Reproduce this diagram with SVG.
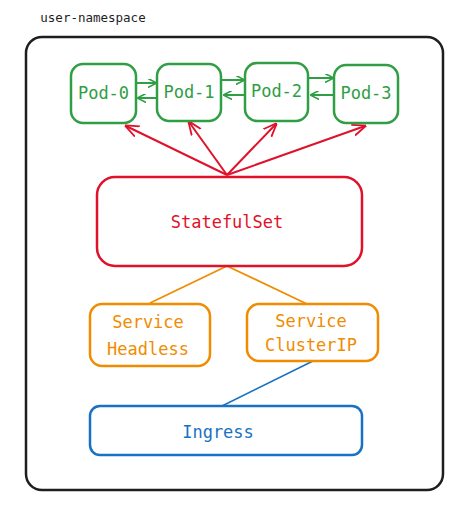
<svg xmlns="http://www.w3.org/2000/svg" width="474" height="515" viewBox="0 0 474 515">
<defs>
<style>
text{font-family:"DejaVu Sans Mono","Liberation Mono",monospace;text-anchor:middle;dominant-baseline:central}
.pod rect{fill:#fff;stroke:#2f9e44;stroke-width:2.5}
.pod text{fill:#2f9e44;font-size:17px}
.ss rect{fill:#fff;stroke:#e0112b;stroke-width:2.5}
.ss text{fill:#e0112b;font-size:17px}
.svc rect{fill:#fff;stroke:#f08c00;stroke-width:2.5}
.svc text{fill:#f08c00;font-size:17px}
.ing rect{fill:#fff;stroke:#1971c2;stroke-width:2.5}
.ing text{fill:#1971c2;font-size:17px}
.g{stroke:#2f9e44;stroke-width:2;fill:none}
.r{stroke:#e0112b;stroke-width:2;fill:none}
.o{stroke:#f08c00;stroke-width:1.8;fill:none}
.b{stroke:#1971c2;stroke-width:1.5;fill:none}
</style>
<marker id="ag" viewBox="0 0 10 10" refX="9" refY="5" markerWidth="9" markerHeight="9" orient="auto" markerUnits="userSpaceOnUse"><path d="M0,0 L10,5 L0,10" fill="none" stroke="#2f9e44" stroke-width="1.8"/></marker>
<marker id="ar" viewBox="0 0 10 10" refX="9" refY="5" markerWidth="14" markerHeight="14" orient="auto" markerUnits="userSpaceOnUse"><path d="M0,1 L10,5 L0,9" fill="none" stroke="#e0112b" stroke-width="1.3"/></marker>
</defs>
<rect width="474" height="515" fill="#fff"/>
<text x="93" y="17" style="font-size:12.5px;fill:#1e1e1e">user-namespace</text>
<g id="namespace"><rect x="26" y="37" width="417" height="453" rx="16" fill="none" stroke="#1e1e1e" stroke-width="2.5"/></g>
<g id="connectors">
<line class="g" x1="137" y1="83" x2="156" y2="83" marker-end="url(#ag)"/>
<line class="g" x1="157" y1="98" x2="138" y2="98" marker-end="url(#ag)"/>
<line class="g" x1="222" y1="80" x2="244" y2="80" marker-end="url(#ag)"/>
<line class="g" x1="245" y1="95" x2="224" y2="95" marker-end="url(#ag)"/>
<line class="g" x1="309" y1="78" x2="333" y2="78" marker-end="url(#ag)"/>
<line class="g" x1="334" y1="95" x2="311" y2="95" marker-end="url(#ag)"/>
<line class="r" x1="227" y1="175" x2="126" y2="126" marker-end="url(#ar)"/>
<line class="r" x1="227" y1="175" x2="189" y2="122" marker-end="url(#ar)"/>
<line class="r" x1="227" y1="175" x2="276" y2="124" marker-end="url(#ar)"/>
<line class="r" x1="227" y1="175" x2="365" y2="126" marker-end="url(#ar)"/>
<line class="o" x1="227" y1="266" x2="150" y2="303"/>
<line class="o" x1="227" y1="266" x2="307" y2="304"/>
<line class="b" x1="313" y1="361" x2="222" y2="406"/>
</g>
<g id="pod-0" class="pod"><rect x="71" y="64" width="65" height="59" rx="12"/><text x="103.5" y="93">Pod-0</text></g>
<g id="pod-1" class="pod"><rect x="157" y="64" width="64" height="57" rx="12"/><text x="189" y="92">Pod-1</text></g>
<g id="pod-2" class="pod"><rect x="245" y="63" width="63" height="58" rx="12"/><text x="276.5" y="91">Pod-2</text></g>
<g id="pod-3" class="pod"><rect x="334" y="65" width="64" height="58" rx="12"/><text x="366" y="93">Pod-3</text></g>
<g id="statefulset" class="ss"><rect x="97" y="177" width="265" height="89" rx="18"/><text x="227" y="222">StatefulSet</text></g>
<g id="svc-headless" class="svc"><rect x="90" y="304" width="120" height="62" rx="12"/><text x="148" y="322">Service</text><text x="148" y="349">Headless</text></g>
<g id="svc-clusterip" class="svc"><rect x="247" y="304" width="131" height="57" rx="12"/><text x="311" y="321">Service</text><text x="311" y="345">ClusterIP</text></g>
<g id="ingress" class="ing"><rect x="90" y="406" width="272" height="49" rx="10"/><text x="218" y="432">Ingress</text></g>
</svg>
